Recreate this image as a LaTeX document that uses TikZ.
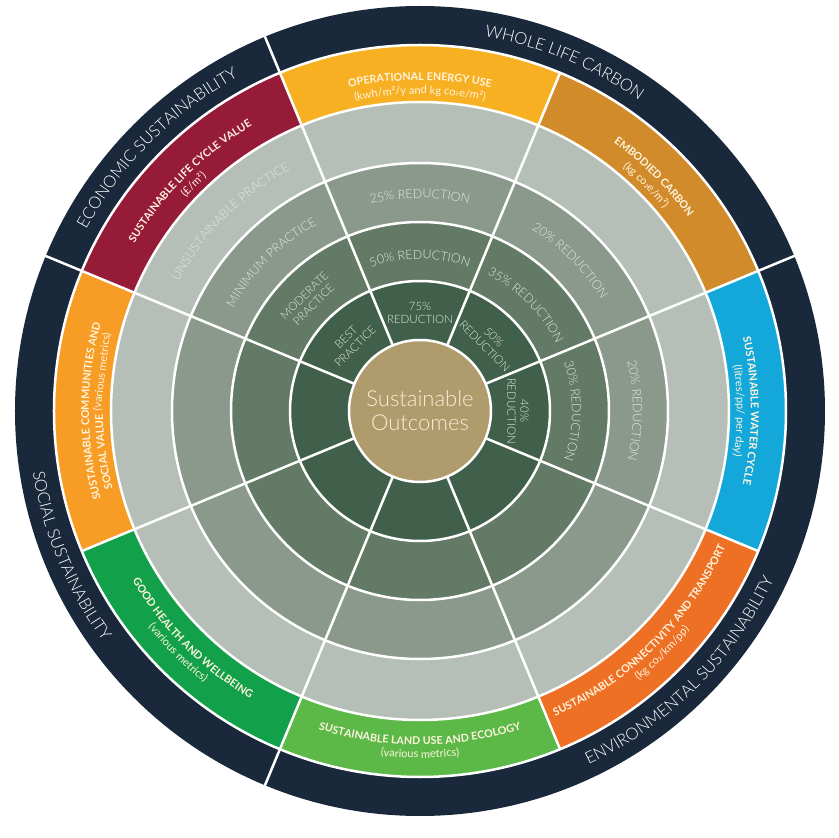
\documentclass[tikz,border=0pt]{standalone}
\usepackage{fontspec}
\setmainfont{Lato}
\newfontfamily\lightfont{Lato Light}
\newfontfamily\symfont{DejaVu Sans}

\definecolor{navy}{HTML}{19283A}
\definecolor{ringA}{HTML}{B5BFB7}
\definecolor{ringB}{HTML}{8A998C}
\definecolor{ringC}{HTML}{637A66}
\definecolor{ringD}{HTML}{41604B}
\definecolor{core}{HTML}{AF9B6B}
\definecolor{coretext}{HTML}{F8EED6}
\definecolor{greytext}{HTML}{E2E7DE}
\definecolor{segtext}{HTML}{FFF4DE}
\definecolor{energy}{HTML}{F8B023}
\definecolor{embodied}{HTML}{D18B2B}
\definecolor{water}{HTML}{14A8DA}
\definecolor{transport}{HTML}{EE7024}
\definecolor{landuse}{HTML}{5CB947}
\definecolor{health}{HTML}{12A04A}
\definecolor{community}{HTML}{F79C25}
\definecolor{lifecycle}{HTML}{961B39}

\newcommand\outerfont{\lightfont\fontsize{16.5}{16}\selectfont\color{white}}
\newcommand\segfont{\fontsize{10.75}{12}\selectfont\bfseries\color{segtext}}
\newcommand\unitfont{\fontsize{11}{13}\selectfont\mdseries\color{segtext}}
\newcommand\subfont{\symfont\fontsize{9}{10}\selectfont}
\newcommand\greyfont{\lightfont\fontsize{12.5}{14}\selectfont\color{greytext}}

% one coloured block of the wheel: mid angle, colour
\newcommand\segment[2]{%
  \fill[#2] ({#1-22.5}:309) arc[start angle={#1-22.5},end angle={#1+22.5},radius=309]
    -- ({#1+22.5}:366) arc[start angle={#1+22.5},end angle={#1-22.5},radius=366] -- cycle;}

% text bent round the hub: mid angle, baseline radius, 1 = tops out / -1 = tops in, font, text
\makeatletter
\newdimen\arc@pos
\newdimen\arc@tmp
\newbox\arc@box
\newcommand\arc@measure[2]{%
  \pgfinterruptpicture\global\setbox\arc@box\hbox{#1#2}\endpgfinterruptpicture}
\newcommand\arctext[5]{%
  \arc@pos=0pt
  \@tfor\arc@ch:=#5\do{\arc@measure{#4}{\arc@ch}\advance\arc@pos by \wd\arc@box}%
  \arc@pos=-.5\arc@pos
  \@tfor\arc@ch:=#5\do{%
    \arc@measure{#4}{\arc@ch}%
    \advance\arc@pos by .5\wd\arc@box
    \arc@tmp=57.29578\arc@pos
    \divide\arc@tmp by #2
    \edef\arc@off{\strip@pt\arc@tmp}%
    \pgfmathsetmacro\arc@ang{#1-(#3)*(\arc@off)}%
    \pgfmathsetmacro\arc@rot{\arc@ang-(#3)*90}%
    \node[glyph,rotate=\arc@rot] at (\arc@ang:#2) {#4\arc@ch};
    \advance\arc@pos by .5\wd\arc@box
  }}
\makeatother

\tikzset{
  divider/.style={white,line width=2.5pt},
  glyph/.style={inner sep=0pt,anchor=base},
  ringnote/.style={text=greytext,font=\lightfont\fontsize{11.5}{13}\selectfont,align=center,inner sep=0pt},
  hub/.style={circle,fill=core,draw=white,line width=2.5pt,minimum size=142pt,
    text=coretext,font=\lightfont\fontsize{22}{24}\selectfont,align=center}
}

\begin{document}
\begin{tikzpicture}[x=1pt,y=1pt]
  \useasboundingbox (-420,-427) rectangle (419,411);
  % outer band
  \fill[navy] (0,0) circle[radius=405];
  % coloured blocks
  \segment{90}{energy}
  \segment{45}{embodied}
  \segment{0}{water}
  \segment{-45}{transport}
  \segment{-90}{landuse}
  \segment{-135}{health}
  \segment{180}{community}
  \segment{135}{lifecycle}
  % grey rings
  \fill[ringA] (0,0) circle[radius=309];
  \fill[ringB] (0,0) circle[radius=248];
  \fill[ringC] (0,0) circle[radius=189];
  \fill[ringD] (0,0) circle[radius=130];
  % white dividers
  \foreach \rad in {130,189,248,309,366}
    \draw[divider] (0,0) circle[radius=\rad];
  \foreach \a in {22.5,67.5,...,337.5}
    \draw[divider] (\a:71) -- (\a:366);
  \foreach \a in {22.5,112.5,157.5,247.5}
    \draw[divider] (\a:366) -- (\a:408);
  \node[hub] (hub) at (0,0) {Sustainable\\Outcomes};

  % outer band titles
  \arctext{67.5}{380}{1}{\outerfont}{WHOLE~LIFE~CARBON}
  \arctext{135}{380}{1}{\outerfont}{ECONOMIC~SUSTAINABILITY}
  \arctext{-45}{392}{-1}{\outerfont}{ENVIRONMENTAL~SUSTAINABILITY}
  \arctext{-157.5}{392}{-1}{\outerfont}{SOCIAL~SUSTAINABILITY}

  % coloured block titles
  \arctext{90}{331}{1}{\segfont}{OPERATIONAL~ENERGY~USE}
  \arctext{90}{317}{1}{\unitfont}{(kwh/m²/y~and~kg~co{\subfont ₂}e/m²)}
  \arctext{45}{331}{1}{\segfont}{EMBODIED~CARBON}
  \arctext{45}{317}{1}{\unitfont}{(kg~co{\subfont ₂}e/m²)}
  \arctext{0}{331}{1}{\segfont}{SUSTAINABLE~WATER~CYCLE}
  \arctext{0}{317}{1}{\unitfont}{(litres/pp/~per~day)}
  \arctext{180}{331}{1}{\segfont}{SUSTAINABLE~COMMUNITIES~AND}
  \arctext{180}{317}{1}{\segfont}{SOCIAL~VALUE~{\unitfont(various metrics)}}
  \arctext{135}{331}{1}{\segfont}{SUSTAINABLE~LIFE~CYCLE~VALUE}
  \arctext{135}{317}{1}{\unitfont}{(£/m²)}
  \arctext{-45}{334}{-1}{\segfont}{SUSTAINABLE~CONNECTIVITY~AND~TRANSPORT}
  \arctext{-45}{347}{-1}{\unitfont}{(kg~co{\subfont ₂}/km/pp)}
  \arctext{-90}{334}{-1}{\segfont}{SUSTAINABLE~LAND~USE~AND~ECOLOGY}
  \arctext{-90}{347}{-1}{\unitfont}{(various~metrics)}
  \arctext{-135}{334}{-1}{\segfont}{GOOD~HEALTH~AND~WELLBEING}
  \arctext{-135}{347}{-1}{\unitfont}{(various~metrics)}

  % grey ring notes
  \arctext{135}{274}{1}{\greyfont}{UNSUSTAINABLE~PRACTICE}
  \arctext{135}{213}{1}{\greyfont}{MINIMUM~PRACTICE}
  \arctext{90}{213}{1}{\greyfont}{25\%~REDUCTION}
  \arctext{45}{213}{1}{\greyfont}{20\%~REDUCTION}
  \arctext{0}{213}{1}{\greyfont}{20\%~REDUCTION}
  \arctext{90}{152}{1}{\greyfont}{50\%~REDUCTION}
  \arctext{45}{152}{1}{\greyfont}{35\%~REDUCTION}
  \arctext{0}{152}{1}{\greyfont}{30\%~REDUCTION}
  \node[ringnote,rotate=45] (moderate) at (135:157) {MODERATE\\PRACTICE};
  \node[ringnote,rotate=45] (best) at (135:98) {BEST\\PRACTICE};
  \node[ringnote] (cut75) at (90:98) {75\%\\REDUCTION};
  \node[ringnote,rotate=-45] (cut50) at (45:98) {50\%\\REDUCTION};
  \node[ringnote,rotate=-90] (cut40) at (0:98) {40\%\\REDUCTION};
\end{tikzpicture}
\end{document}
